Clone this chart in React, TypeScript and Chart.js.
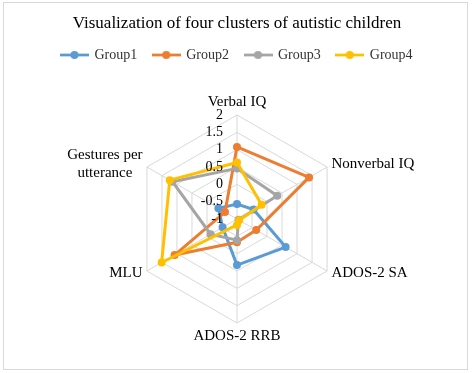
import { useEffect, useRef } from 'react';
import { Chart, registerables } from 'chart.js';

Chart.register(...registerables);

// ---- data ----
const chartTitle = 'Visualization of four clusters of autistic children';
const categories: (string | string[])[] = [
  'Verbal IQ',
  'Nonverbal IQ',
  'ADOS-2 SA',
  'ADOS-2 RRB',
  'MLU',
  ['Gestures per', 'utterance'],
];
const seriesNames = ['Group1', 'Group2', 'Group3', 'Group4'];
const group1 = [-0.57, -0.45, 0.62, 0.33, -0.52, -0.38];
const group2 = [1.08, 1.4, -0.36, -0.33, 1.08, -0.6];
const group3 = [0.46, 0.34, -0.95, -0.39, -0.12, 1.15];
const group4 = [0.63, -0.18, -0.93, -0.83, 1.51, 1.24];
const seriesValues = [group1, group2, group3, group4];
const axisMin = -1;
const axisMax = 2;
const axisStep = 0.5;

// ---- style ----
const colors = ['#5B9BD5', '#ED7D31', '#A5A5A5', '#FFC000'];
const FONT = "'Liberation Serif', 'Times New Roman', serif";
const LABEL_ROOM = 43;

function legendMarker(color: string) {
  const c = document.createElement('canvas');
  c.width = 29;
  c.height = 10;
  const ctx = c.getContext('2d')!;
  ctx.strokeStyle = color;
  ctx.lineWidth = 2.75;
  ctx.beginPath();
  ctx.moveTo(0, 5);
  ctx.lineTo(29, 5);
  ctx.stroke();
  ctx.fillStyle = color;
  ctx.beginPath();
  ctx.arc(14.5, 5, 4, 0, Math.PI * 2);
  ctx.fill();
  return c;
}

const framePlugin = {
  id: 'frame',
  beforeDraw(chart: any) {
    const { ctx, width, height } = chart;
    ctx.save();
    ctx.fillStyle = '#ffffff';
    ctx.fillRect(0, 0, width, height);
    ctx.strokeStyle = '#d9d9d9';
    ctx.lineWidth = 1;
    ctx.strokeRect(3.5, 2.5, width - 10, height - 6);
    ctx.restore();
  },
};

const axisTextPlugin = {
  id: 'axisText',
  afterDatasetsDraw(chart: any) {
    const scale = chart.scales.r;
    const ctx = chart.ctx;
    ctx.save();
    ctx.fillStyle = '#000';
    ctx.textBaseline = 'middle';
    ctx.font = `14px ${FONT}`;
    ctx.textAlign = 'right';
    scale.ticks.forEach((t: any) => {
      const d = scale.getDistanceFromCenterForValue(t.value);
      ctx.fillText(t.label, scale.xCenter - 14, scale.yCenter - d);
    });
    ctx.font = `15px ${FONT}`;
    const R = scale.drawingArea;
    categories.forEach((label, i) => {
      const lines = Array.isArray(label) ? label : [label];
      const base = scale.getPointPosition(i, R);
      const vertical = Math.abs(base.x - scale.xCenter) < 1;
      const pos = scale.getPointPosition(i, R + (vertical ? 13 : 5));
      const widths = lines.map((l) => ctx.measureText(l).width);
      const bw = Math.max(...widths);
      let left: number;
      if (vertical) left = pos.x - bw / 2;
      else if (base.x > scale.xCenter) left = pos.x;
      else left = pos.x - bw;
      ctx.textAlign = 'center';
      lines.forEach((l, j) => {
        ctx.fillText(l, left + bw / 2, pos.y + (j - (lines.length - 1) / 2) * 18);
      });
    });
    ctx.restore();
  },
};

export default function App() {
  const ref = useRef<HTMLCanvasElement | null>(null);

  useEffect(() => {
    if (!ref.current) return;
    const markers = colors.map(legendMarker);
    const chart = new Chart(ref.current, {
      type: 'radar',
      data: {
        labels: categories as any,
        datasets: seriesNames.map((name, i) => ({
          label: name,
          data: seriesValues[i],
          borderColor: colors[i],
          backgroundColor: colors[i],
          pointBackgroundColor: colors[i],
          pointBorderColor: colors[i],
          pointBorderWidth: 0,
          pointRadius: 4,
          borderWidth: 3,
          borderJoinStyle: 'round',
          fill: false,
          order: seriesNames.length - 1 - i,
        })),
      },
      options: {
        responsive: false,
        animation: false,
        events: [],
        layout: { padding: { top: 0, bottom: 7, left: 0, right: 0 } },
        elements: { line: { tension: 0 } },
        scales: {
          r: {
            min: axisMin,
            max: axisMax,
            ticks: {
              display: false,
              stepSize: axisStep,
              callback: (v: number) => String(Math.round(v * 100) / 100),
            },
            pointLabels: { display: false },
            grid: { color: '#d9d9d9', lineWidth: 1 },
            angleLines: { display: true, color: '#d9d9d9', lineWidth: 1 },
            afterFit: (scale: any) => {
              scale.setCenterPoint(LABEL_ROOM, LABEL_ROOM, LABEL_ROOM, LABEL_ROOM);
            },
          } as any,
        },
        plugins: {
          title: {
            display: true,
            text: chartTitle,
            color: '#000',
            font: { family: FONT, size: 17, weight: 'normal', lineHeight: 1 },
            padding: { top: 15, bottom: 0 },
          },
          legend: {
            display: true,
            position: 'top',
            labels: {
              usePointStyle: true,
              pointStyleWidth: 26,
              padding: 16,
              color: '#333',
              font: { family: FONT, size: 14 },
              sort: (a: any, b: any) => a.datasetIndex - b.datasetIndex,
              generateLabels: (c: any) => {
                const items = (Chart.defaults.plugins.legend.labels as any).generateLabels(c);
                return items.map((it: any) => ({ ...it, pointStyle: markers[it.datasetIndex] }));
              },
            },
          },
          tooltip: { enabled: false },
        },
      },
      plugins: [framePlugin, axisTextPlugin],
    } as any);
    return () => chart.destroy();
  }, []);

  return (
    <div style={{ position: 'absolute', left: 0, top: 0, width: 474, height: 373 }}>
      <canvas ref={ref} width={474} height={373} style={{ display: 'block' }} />
    </div>
  );
}
